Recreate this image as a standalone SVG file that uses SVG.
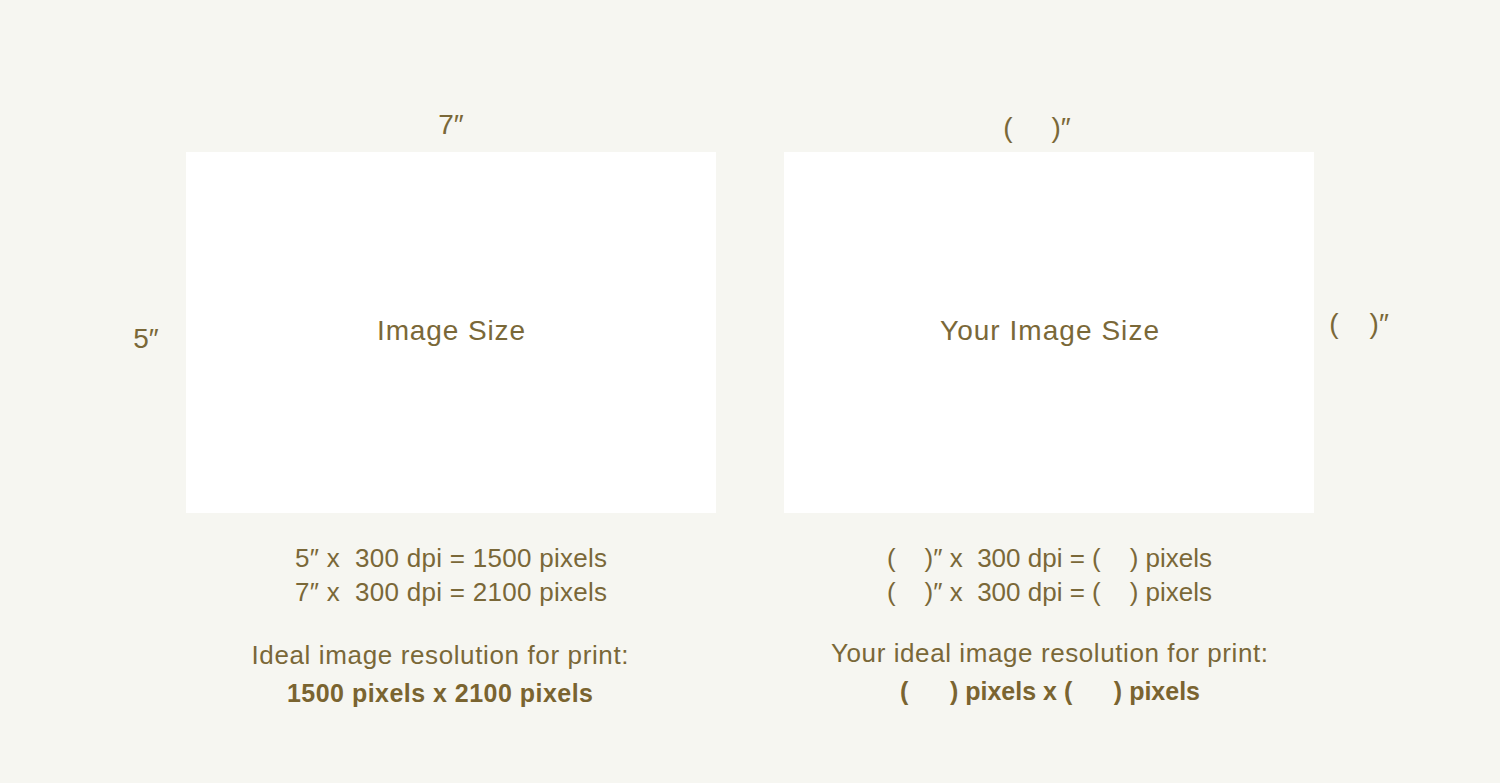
<svg xmlns="http://www.w3.org/2000/svg" width="1500" height="783" viewBox="0 0 1500 783">
<style>
text{font-family:"Liberation Sans",Arial,sans-serif;fill:#7a6838;white-space:pre;text-anchor:middle}
.t{font-size:28px}
.m{font-size:26px}
.b{font-size:25px;font-weight:bold;fill:#7a6430}
.box{fill:#ffffff}
</style>
<rect width="1500" height="783" fill="#f6f6f1"/>
<g id="left-box">
<rect class="box" x="186" y="152" width="530" height="361"/>
<text class="t" x="451" y="340" textLength="148" lengthAdjust="spacing">Image Size</text>
</g>
<g id="left-width"><text class="t" x="451" y="134">7″</text></g>
<g id="left-height"><text class="t" x="146" y="348">5″</text></g>
<g id="left-calc">
<text class="m" x="451" y="567" textLength="312" lengthAdjust="spacing">5″ x  300 dpi = 1500 pixels</text>
<text class="m" x="451" y="601" textLength="312" lengthAdjust="spacing">7″ x  300 dpi = 2100 pixels</text>
<text class="m" x="440" y="664" textLength="377" lengthAdjust="spacing">Ideal image resolution for print:</text>
<text class="b" x="440" y="702" textLength="306" lengthAdjust="spacing">1500 pixels x 2100 pixels</text>
</g>
<g id="right-box">
<rect class="box" x="784" y="152" width="530" height="361"/>
<text class="t" x="1049.5" y="340" textLength="219" lengthAdjust="spacing">Your Image Size</text>
</g>
<g id="right-width"><text class="t" x="1037" y="137">(     )″</text></g>
<g id="right-height"><text class="t" x="1359" y="333">(    )″</text></g>
<g id="right-calc">
<text class="m" x="1049.5" y="567" textLength="325" lengthAdjust="spacing">(    )″ x  300 dpi = (    ) pixels</text>
<text class="m" x="1049.5" y="601" textLength="325" lengthAdjust="spacing">(    )″ x  300 dpi = (    ) pixels</text>
<text class="m" x="1049.5" y="662" textLength="437" lengthAdjust="spacing">Your ideal image resolution for print:</text>
<text class="b" x="1050" y="700" textLength="300" lengthAdjust="spacing">(      ) pixels x (      ) pixels</text>
</g>
<g id="connectors"/>
</svg>
